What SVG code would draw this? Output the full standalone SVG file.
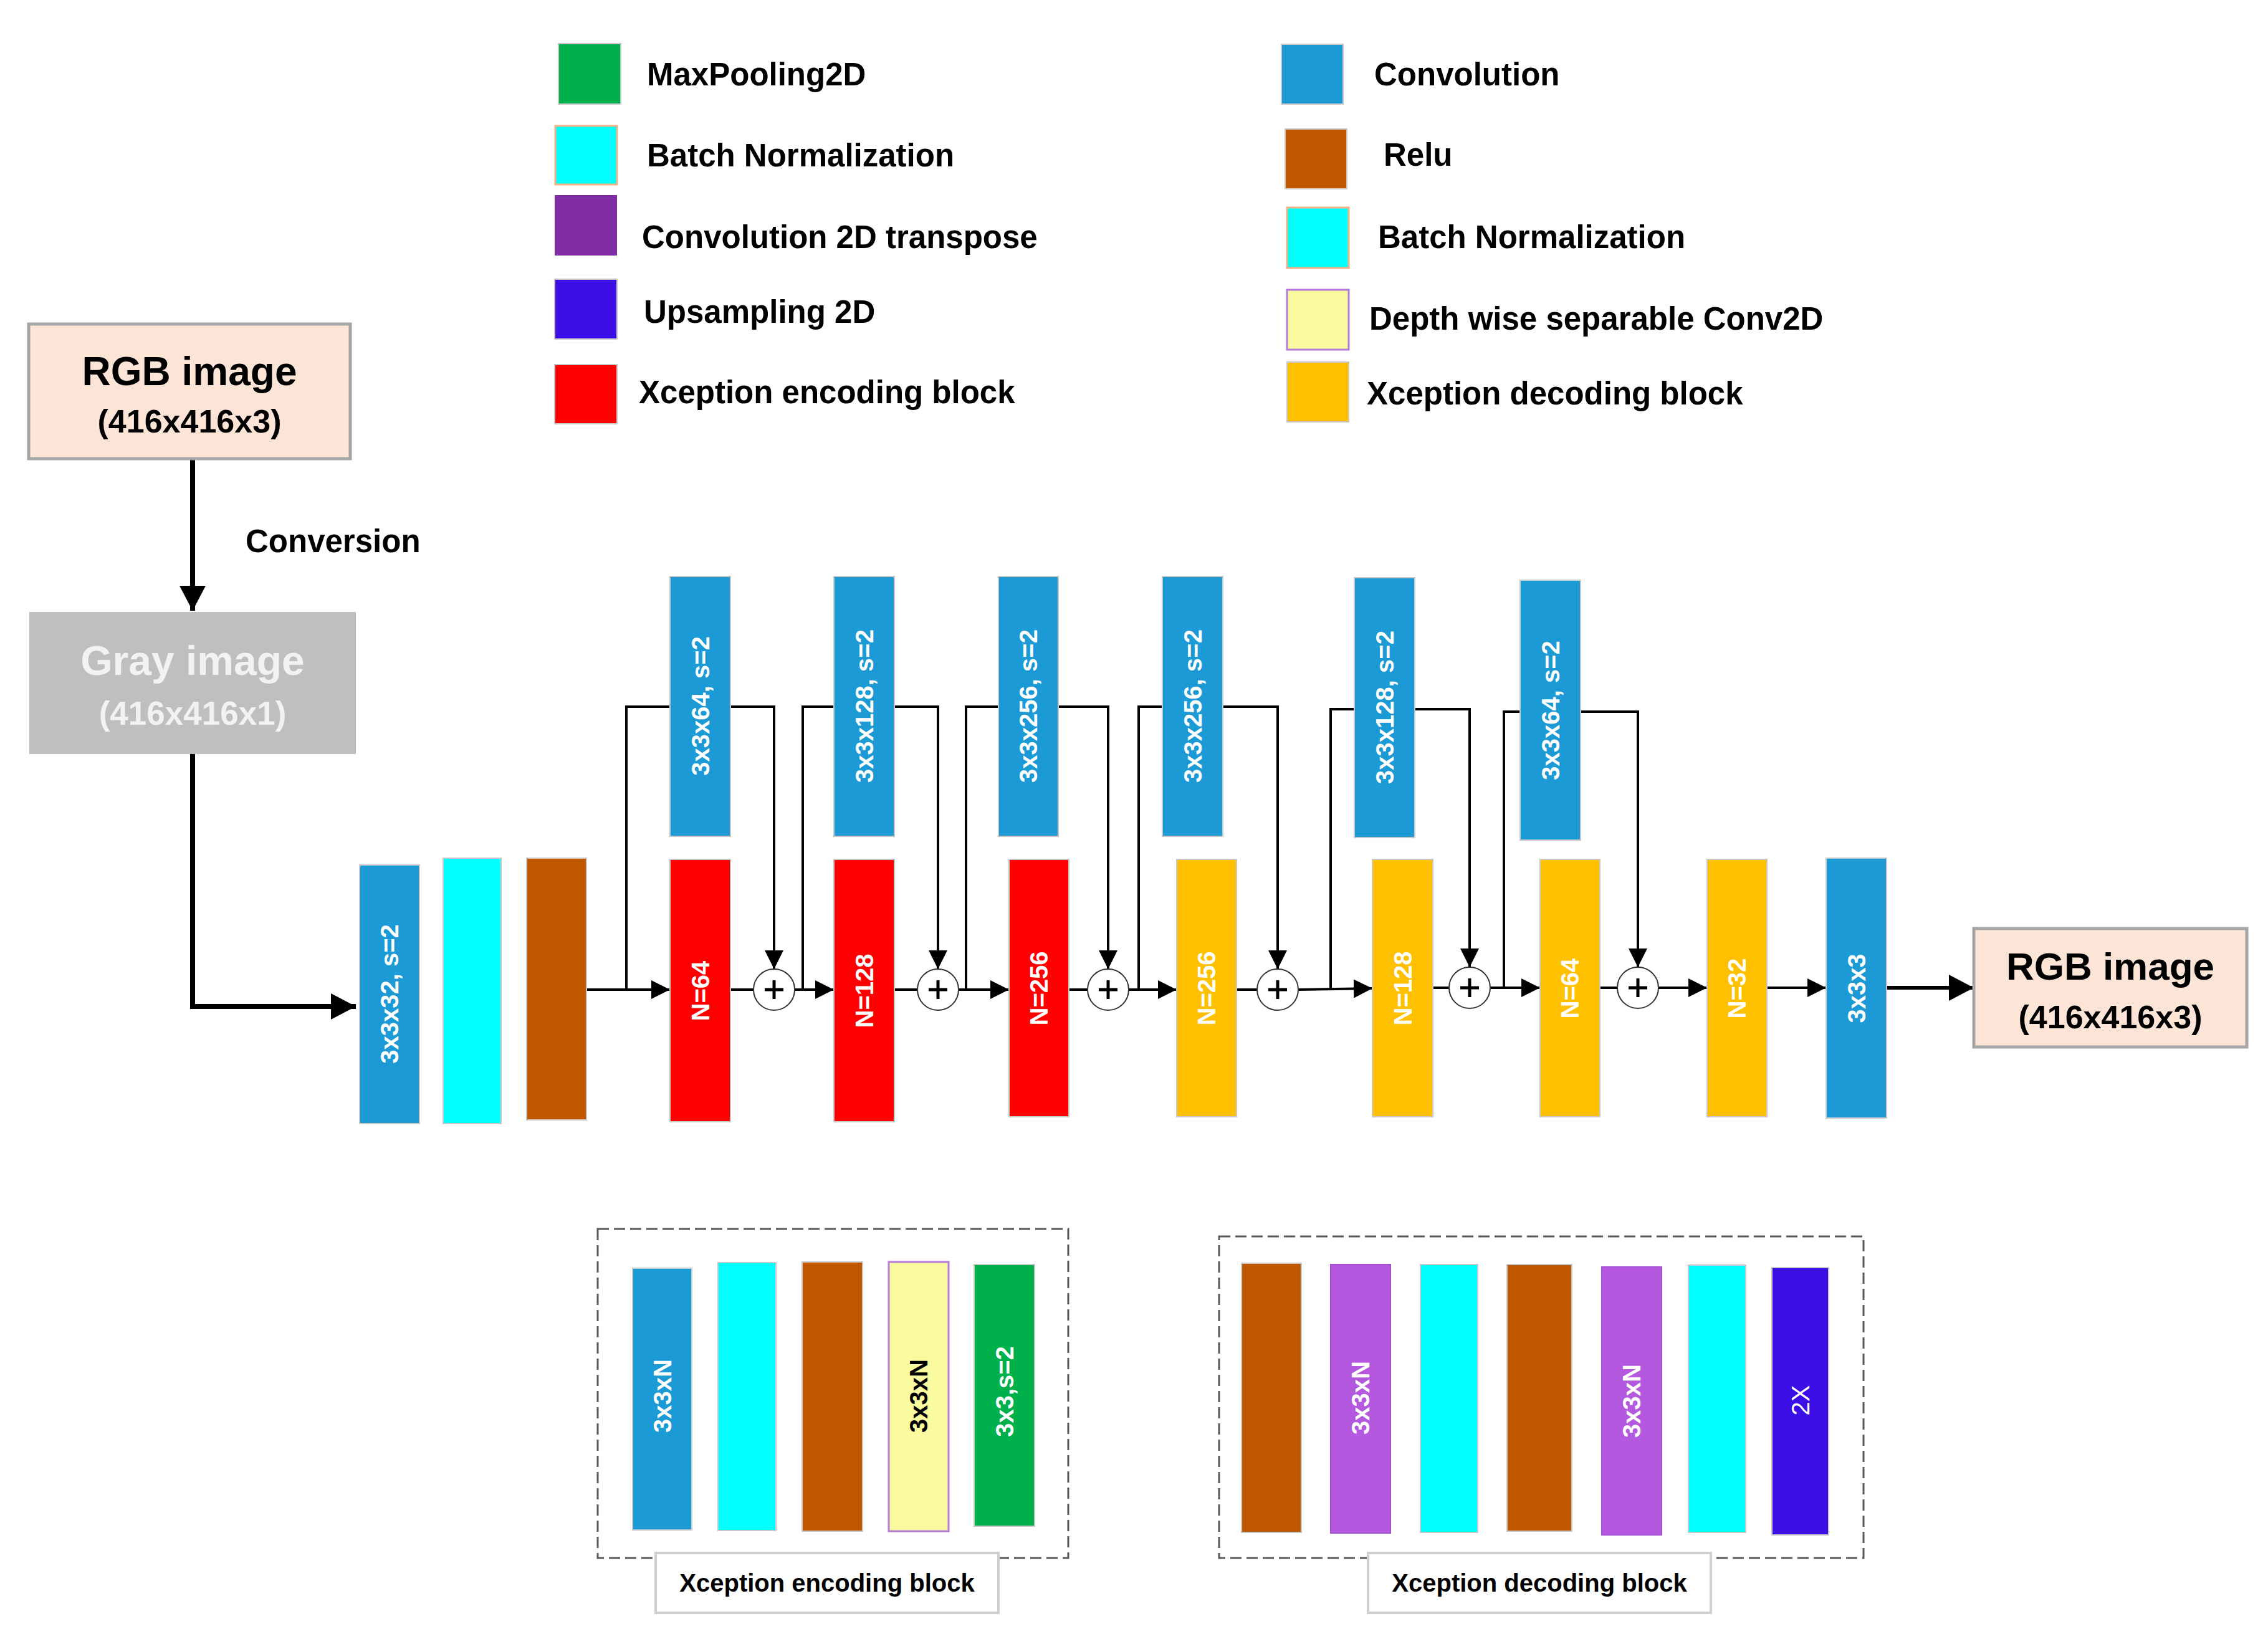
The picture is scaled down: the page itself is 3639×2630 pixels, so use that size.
<svg xmlns="http://www.w3.org/2000/svg" width="3639" height="2630" viewBox="0 0 3639 2630">
<defs>
<style>
.lg{font-family:"Liberation Sans",Arial,sans-serif;font-weight:bold;font-size:51px;fill:#000}
.bt{font-family:"Liberation Sans",Arial,sans-serif;font-weight:bold;fill:#000;text-anchor:middle}
.rl{font-family:"Liberation Sans",Arial,sans-serif;font-size:40px;text-anchor:middle;dominant-baseline:central;fill:#fff}
.b{font-weight:bold}
.conv{fill:#1B9AD6;stroke:#C8C8C8;stroke-width:2}
.bn{fill:#00FFFF;stroke:#C8C8C8;stroke-width:2}
.relu{fill:#C05800;stroke:#C8C8C8;stroke-width:2}
.enc{fill:#FF0000;stroke:#C8C8C8;stroke-width:2}
.dec{fill:#FFC000;stroke:#C8C8C8;stroke-width:2}
.dw{fill:#FAFA9E;stroke:#B57BD8;stroke-width:3}
.mp{fill:#00B04A;stroke:#C8C8C8;stroke-width:2}
.tr{fill:#B558E0;stroke:#A050D0;stroke-width:2}
.up{fill:#3C0FE6;stroke:#C8C8C8;stroke-width:2}
.ln{fill:none;stroke:#000;stroke-width:4}
.add circle{fill:#fff;stroke:#333;stroke-width:2}
.add path{stroke:#000;stroke-width:5;fill:none}
.dash{fill:none;stroke:#595959;stroke-width:3;stroke-dasharray:18 8}
.lbox{fill:#fff;stroke:#CFCFCF;stroke-width:4}
</style>
<marker id="ah" markerUnits="userSpaceOnUse" markerWidth="30" markerHeight="30" refX="30" refY="15" orient="auto">
<path d="M0,0 L30,15 L0,30 z" fill="#000"/>
</marker>
<marker id="ahb" markerUnits="userSpaceOnUse" markerWidth="40" markerHeight="42" refX="40" refY="21" orient="auto">
<path d="M0,0 L40,21 L0,42 z" fill="#000"/>
</marker>
</defs>
<rect width="3639" height="2630" fill="#fff"/>

<g id="legend">
<rect x="896" y="70" width="100" height="97" class="mp"/>
<text class="lg" x="1038" y="137">MaxPooling2D</text>
<rect x="891" y="202" width="99" height="94" fill="#00FFFF" stroke="#F4B183" stroke-width="3"/>
<text class="lg" x="1038" y="267">Batch Normalization</text>
<rect x="890" y="313" width="100" height="97" fill="#7F2BA1"/>
<text class="lg" x="1030" y="398">Convolution 2D transpose</text>
<rect x="890" y="448" width="100" height="96" class="up"/>
<text class="lg" x="1033" y="518">Upsampling 2D</text>
<rect x="890" y="585" width="100" height="95" class="enc"/>
<text class="lg" x="1025" y="647">Xception encoding block</text>
<rect x="2056" y="71" width="99" height="96" class="conv"/>
<text class="lg" x="2205" y="137">Convolution</text>
<rect x="2062" y="207" width="99" height="96" class="relu"/>
<text class="lg" x="2220" y="266">Relu</text>
<rect x="2065" y="333" width="99" height="97" fill="#00FFFF" stroke="#F4B183" stroke-width="3"/>
<text class="lg" x="2211" y="398">Batch Normalization</text>
<rect x="2065" y="465" width="99" height="96" class="dw"/>
<text class="lg" x="2197" y="529">Depth wise separable Conv2D</text>
<rect x="2065" y="581" width="99" height="96" class="dec"/>
<text class="lg" x="2193" y="649">Xception decoding block</text>
</g>

<g id="connectors">
<line x1="309" y1="737" x2="309" y2="980" stroke="#000" stroke-width="8" marker-end="url(#ahb)"/>
<path d="M309,1210 V1615 H571" fill="none" stroke="#000" stroke-width="8" marker-end="url(#ahb)"/>
<line class="ln" x1="941" y1="1588" x2="1075" y2="1588" marker-end="url(#ah)"/>
<path class="ln" d="M1005,1588 V1134 H1242 V1555" marker-end="url(#ah)"/>
<line class="ln" x1="1172" y1="1588" x2="1209" y2="1588"/>
<line class="ln" x1="1275" y1="1588" x2="1338" y2="1588" marker-end="url(#ah)"/>
<path class="ln" d="M1288,1588 V1134 H1505 V1555" marker-end="url(#ah)"/>
<line class="ln" x1="1435" y1="1588" x2="1472" y2="1588"/>
<line class="ln" x1="1538" y1="1588" x2="1619" y2="1588" marker-end="url(#ah)"/>
<path class="ln" d="M1550,1588 V1134 H1778 V1555" marker-end="url(#ah)"/>
<line class="ln" x1="1715" y1="1588" x2="1745" y2="1588"/>
<line class="ln" x1="1811" y1="1588" x2="1888" y2="1588" marker-end="url(#ah)"/>
<path class="ln" d="M1827,1588 V1134 H2050 V1555" marker-end="url(#ah)"/>
<line class="ln" x1="1984" y1="1588" x2="2017" y2="1588"/>
<line class="ln" x1="2083" y1="1588" x2="2202" y2="1586" marker-end="url(#ah)"/>
<path class="ln" d="M2135,1587 V1138 H2358 V1552" marker-end="url(#ah)"/>
<line class="ln" x1="2299" y1="1585" x2="2325" y2="1585"/>
<line class="ln" x1="2391" y1="1585" x2="2471" y2="1585" marker-end="url(#ah)"/>
<path class="ln" d="M2413,1585 V1142 H2628 V1552" marker-end="url(#ah)"/>
<line class="ln" x1="2567" y1="1585" x2="2595" y2="1585"/>
<line class="ln" x1="2661" y1="1585" x2="2739" y2="1585" marker-end="url(#ah)"/>
<line class="ln" x1="2835" y1="1585" x2="2930" y2="1585" marker-end="url(#ah)"/>
<line x1="3027" y1="1585" x2="3167" y2="1585" stroke="#000" stroke-width="6" marker-end="url(#ahb)"/>
</g>

<g id="rgb-in">
<rect x="46" y="520" width="516" height="216" fill="#FCE4D6" stroke="#A6A6A6" stroke-width="5"/>
<text class="bt" x="304" y="618" font-size="64">RGB image</text>
<text class="bt" x="304" y="694" font-size="52">(416x416x3)</text>
</g>
<text id="conversion" class="lg" x="394" y="886">Conversion</text>
<g id="gray">
<rect x="47" y="982" width="524" height="228" fill="#BFBFBF"/>
<text class="bt" x="309" y="1083" font-size="66" style="fill:#F2F2F2">Gray image</text>
<text class="bt" x="309" y="1163" font-size="53" style="fill:#F2F2F2">(416x416x1)</text>
</g>

<g id="conv0"><rect x="577" y="1388" width="96" height="415" class="conv"/><text class="rl b" transform="translate(625,1595) rotate(-90)">3x3x32, s=2</text></g>
<g id="bn0"><rect x="711" y="1377" width="93" height="426" class="bn"/></g>
<g id="relu0"><rect x="845" y="1377" width="96" height="420" class="relu"/></g>

<g id="skip1"><rect x="1075" y="925" width="97" height="417" class="conv"/><text class="rl b" transform="translate(1123.5,1133) rotate(-90)">3x3x64, s=2</text></g>
<g id="skip2"><rect x="1338" y="925" width="97" height="417" class="conv"/><text class="rl b" transform="translate(1386.5,1133) rotate(-90)">3x3x128, s=2</text></g>
<g id="skip3"><rect x="1602" y="925" width="96" height="417" class="conv"/><text class="rl b" transform="translate(1650,1133) rotate(-90)">3x3x256, s=2</text></g>
<g id="skip4"><rect x="1865" y="925" width="97" height="417" class="conv"/><text class="rl b" transform="translate(1913.5,1133) rotate(-90)">3x3x256, s=2</text></g>
<g id="skip5"><rect x="2173" y="927" width="97" height="417" class="conv"/><text class="rl b" transform="translate(2221.5,1135) rotate(-90)">3x3x128, s=2</text></g>
<g id="skip6"><rect x="2439" y="931" width="97" height="417" class="conv"/><text class="rl b" transform="translate(2487.5,1140) rotate(-90)">3x3x64, s=2</text></g>

<g id="enc64"><rect x="1075" y="1379" width="97" height="421" class="enc"/><text class="rl b" transform="translate(1123.5,1590) rotate(-90)">N=64</text></g>
<g id="enc128"><rect x="1338" y="1379" width="97" height="421" class="enc"/><text class="rl b" transform="translate(1386.5,1590) rotate(-90)">N=128</text></g>
<g id="enc256"><rect x="1619" y="1379" width="96" height="413" class="enc"/><text class="rl b" transform="translate(1667,1586) rotate(-90)">N=256</text></g>
<g id="dec256"><rect x="1888" y="1379" width="96" height="413" class="dec"/><text class="rl b" transform="translate(1936,1586) rotate(-90)">N=256</text></g>
<g id="dec128"><rect x="2202" y="1379" width="97" height="413" class="dec"/><text class="rl b" transform="translate(2250.5,1586) rotate(-90)">N=128</text></g>
<g id="dec64"><rect x="2471" y="1379" width="96" height="413" class="dec"/><text class="rl b" transform="translate(2519,1586) rotate(-90)">N=64</text></g>
<g id="dec32"><rect x="2739" y="1379" width="96" height="413" class="dec"/><text class="rl b" transform="translate(2787,1586) rotate(-90)">N=32</text></g>
<g id="convout"><rect x="2930" y="1377" width="97" height="417" class="conv"/><text class="rl b" transform="translate(2978.5,1586) rotate(-90)">3x3x3</text></g>

<g id="add1" class="add"><circle cx="1242" cy="1588" r="33"/><path d="M1227,1588 H1257 M1242,1573 V1603"/></g>
<g id="add2" class="add"><circle cx="1505" cy="1588" r="33"/><path d="M1490,1588 H1520 M1505,1573 V1603"/></g>
<g id="add3" class="add"><circle cx="1778" cy="1588" r="33"/><path d="M1763,1588 H1793 M1778,1573 V1603"/></g>
<g id="add4" class="add"><circle cx="2050" cy="1588" r="33"/><path d="M2035,1588 H2065 M2050,1573 V1603"/></g>
<g id="add5" class="add"><circle cx="2358" cy="1585" r="33"/><path d="M2343,1585 H2373 M2358,1570 V1600"/></g>
<g id="add6" class="add"><circle cx="2628" cy="1585" r="33"/><path d="M2613,1585 H2643 M2628,1570 V1600"/></g>

<g id="rgb-out">
<rect x="3167" y="1490" width="438" height="190" fill="#FCE4D6" stroke="#A6A6A6" stroke-width="5"/>
<text class="bt" x="3386" y="1572" font-size="62">RGB image</text>
<text class="bt" x="3386" y="1650" font-size="52">(416x416x3)</text>
</g>

<g id="encoding-block">
<rect x="959" y="1972" width="755" height="528" class="dash"/>
<rect x="1015" y="2035" width="95" height="420" class="conv"/>
<text class="rl b" transform="translate(1062.5,2240) rotate(-90)">3x3xN</text>
<rect x="1152" y="2026" width="93" height="430" class="bn"/>
<rect x="1287" y="2025" width="97" height="432" class="relu"/>
<rect x="1426" y="2025" width="96" height="432" class="dw"/>
<text class="rl b" transform="translate(1474,2240) rotate(-90)" style="fill:#000">3x3xN</text>
<rect x="1563" y="2029" width="97" height="420" class="mp"/>
<text class="rl b" transform="translate(1611.5,2233) rotate(-90)">3x3,s=2</text>
<rect x="1052" y="2492" width="550" height="96" class="lbox"/>
<text class="bt" x="1327" y="2554" font-size="40">Xception encoding block</text>
</g>

<g id="decoding-block">
<rect x="1956" y="1984" width="1034" height="516" class="dash"/>
<rect x="1992" y="2027" width="96" height="432" class="relu"/>
<rect x="2135" y="2029" width="96" height="431" class="tr"/>
<text class="rl b" transform="translate(2183,2243) rotate(-90)">3x3xN</text>
<rect x="2279" y="2029" width="92" height="430" class="bn"/>
<rect x="2418" y="2029" width="104" height="428" class="relu"/>
<rect x="2570" y="2033" width="96" height="430" class="tr"/>
<text class="rl b" transform="translate(2618,2248) rotate(-90)">3x3xN</text>
<rect x="2709" y="2030" width="92" height="429" class="bn"/>
<rect x="2843" y="2034" width="91" height="429" class="up"/>
<text class="rl" transform="translate(2888.5,2247) rotate(-90)">2X</text>
<rect x="2195" y="2492" width="550" height="96" class="lbox"/>
<text class="bt" x="2470" y="2554" font-size="40">Xception decoding block</text>
</g>
</svg>
